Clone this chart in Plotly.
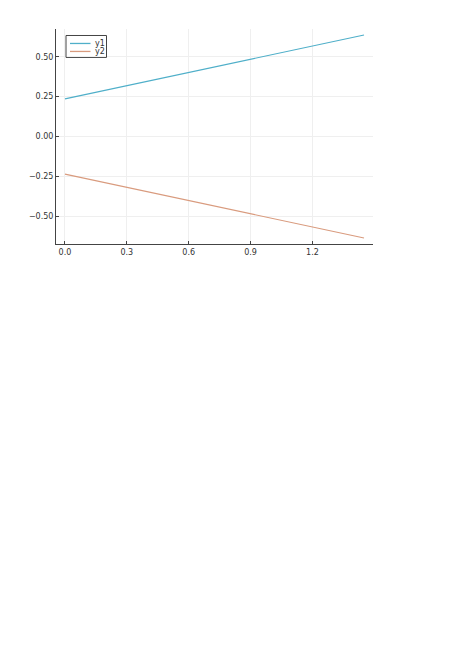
import plotly.graph_objects as go

x_vals = [0.0, 1.45]
y1 = [0.236, 0.636]
y2 = [-0.236, -0.636]
series_names = ["y1", "y2"]
x_ticks = [0.0, 0.3, 0.6, 0.9, 1.2]
y_ticks = [-0.5, -0.25, 0.0, 0.25, 0.5]

colors = ["#4fafc9", "#d99b7e"]

fig = go.Figure()
for name, ys, c in zip(series_names, [y1, y2], colors):
    fig.add_trace(go.Scatter(x=x_vals, y=ys, mode="lines", name=name,
                             line=dict(color=c, width=1.1), showlegend=False))

OFF = 8  # page body margin
W, H = 474 - 2 * OFF, 670 - 2 * OFF
L, R, T, B = 56 - OFF, 373 - OFF, 29 - OFF, 244.5 - OFF
PW, PH = R - L, B - T

def px(xp):
    return (xp - OFF - L) / PW

def py(yp):
    return (B - (yp - OFF)) / PH

# compact legend drawn as a box with sample lines and labels
shapes = [dict(type="rect", xref="paper", yref="paper",
               x0=px(66), x1=px(106.5), y0=py(57.5), y1=py(35.5),
               line=dict(color="#444444", width=1), fillcolor="white", layer="above")]
annotations = []
for i, (name, c) in enumerate(zip(series_names, colors)):
    yy = 43.5 + i * 8
    shapes.append(dict(type="line", xref="paper", yref="paper",
                       x0=px(70), x1=px(90.5), y0=py(yy), y1=py(yy),
                       line=dict(color=c, width=1.3), layer="above"))
    annotations.append(dict(xref="paper", yref="paper", x=px(93), y=py(yy),
                            text=name, showarrow=False, xanchor="left",
                            yanchor="middle", font=dict(size=8, color="#333333")))

fig.update_layout(
    width=W, height=H,
    margin=dict(l=L, r=W - R, t=T, b=H - B, pad=0),
    paper_bgcolor="white", plot_bgcolor="white",
    font=dict(family="DejaVu Sans", size=8, color="#333333"),
    showlegend=False,
    shapes=shapes, annotations=annotations,
)
xr = (1.45 - 0.0) * 0.03
fig.update_xaxes(range=[-xr, 1.45 + xr], tickvals=x_ticks, tickformat=".1f",
                 showgrid=True, gridcolor="#efefef", gridwidth=0.8,
                 showline=True, linecolor="#444444", linewidth=1,
                 ticks="inside", ticklen=3, tickcolor="#444444",
                 zeroline=False, mirror=False)
yr = 0.636 * 1.06
fig.update_yaxes(range=[-yr, yr], tickvals=y_ticks, tickformat=".2f",
                 showgrid=True, gridcolor="#efefef", gridwidth=0.8,
                 showline=True, linecolor="#444444", linewidth=1,
                 ticks="inside", ticklen=3, tickcolor="#444444",
                 zeroline=False, mirror=False)

fig.write_html("out.html")
